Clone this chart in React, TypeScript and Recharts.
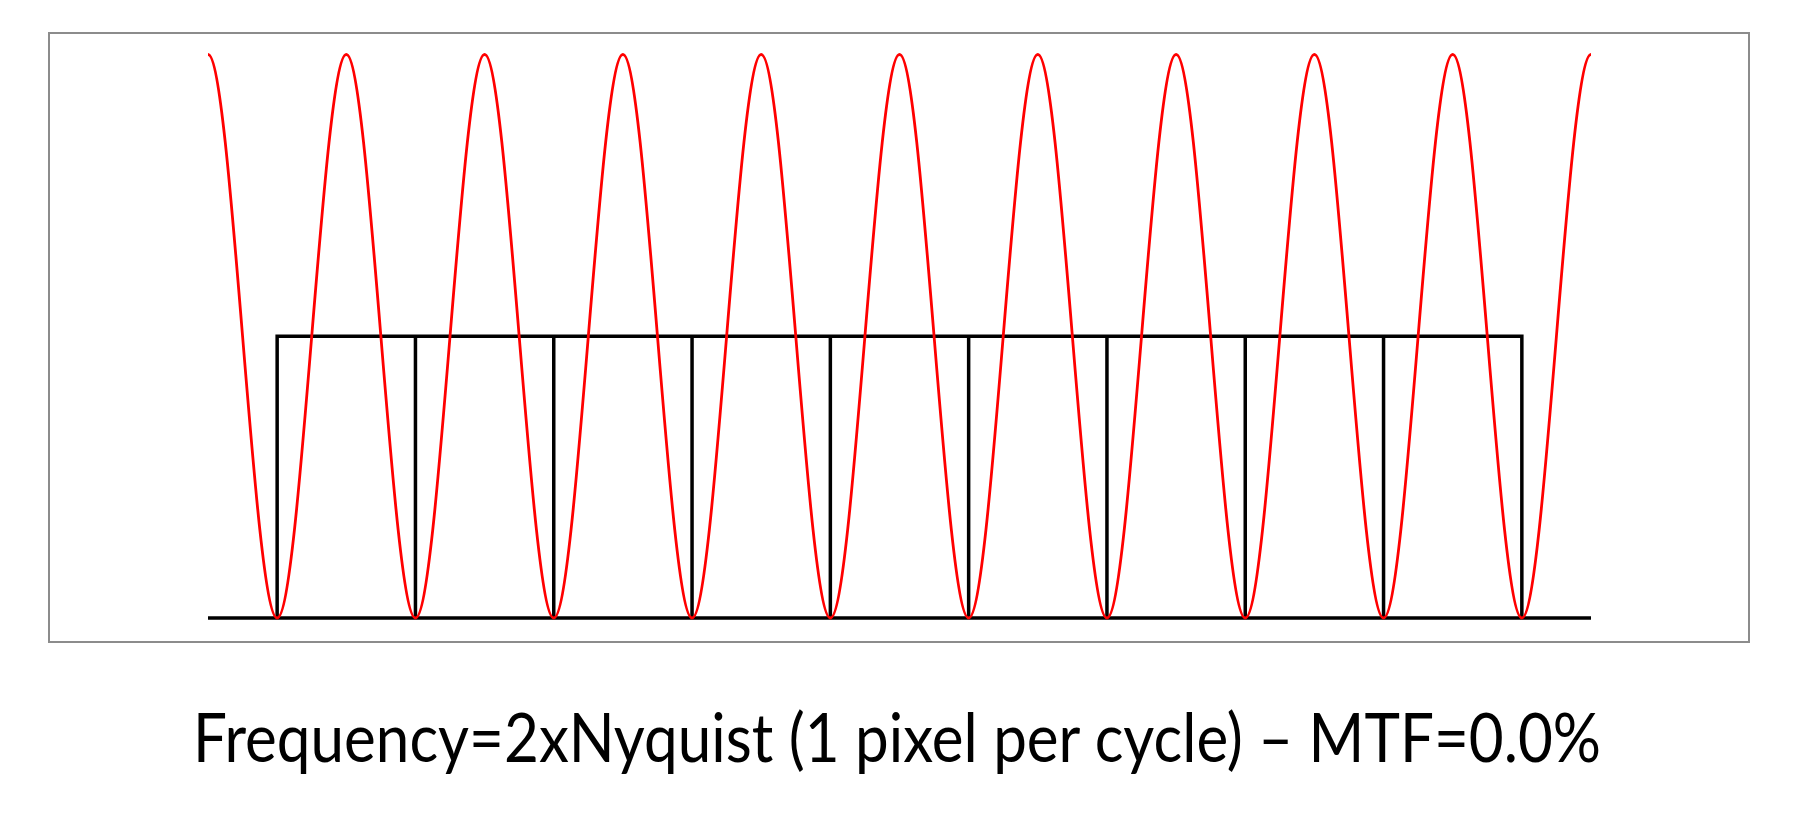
import React from "react";
import { LineChart, Line, XAxis, YAxis } from "recharts";

// Red sinusoid: peak / trough positions (in cycles) and their levels
// (the troughs at -0.5 and 10.5 lie just outside the visible range and are clipped)
const redX = [-0.5, 0, 0.5, 1, 1.5, 2, 2.5, 3, 3.5, 4, 4.5, 5, 5.5, 6, 6.5, 7, 7.5, 8, 8.5, 9, 9.5, 10, 10.5];
const redY = [0, 1, 0, 1, 0, 1, 0, 1, 0, 1, 0, 1, 0, 1, 0, 1, 0, 1, 0, 1, 0, 1, 0];

// Black pulse train: edges (in cycles) and level
const pulseEdges = [0.5, 1.5, 2.5, 3.5, 4.5, 5.5, 6.5, 7.5, 8.5, 9.5];
const pulseLevel = 0.5;

// Baseline extent
const baseX = [0, 10];
const baseY = [0, 0];

const title = "Frequency=2xNyquist (1 pixel per cycle) \u2013 MTF=0.0%";

const redData = redX.map((x, i) => ({ x, y: redY[i] }));
const baseData = baseX.map((x, i) => ({ x, y: baseY[i] }));
const pulseData: { x: number; y: number }[] = [];
pulseEdges.forEach((e, i) => {
  if (i === 0) {
    pulseData.push({ x: e, y: 0 });
    pulseData.push({ x: e, y: pulseLevel });
  } else {
    pulseData.push({ x: e, y: pulseLevel });
    pulseData.push({ x: e, y: 0 });
    if (i < pulseEdges.length - 1) pulseData.push({ x: e, y: pulseLevel });
  }
});

export default function App() {
  return (
    <div style={{ position: "absolute", left: 0, top: 0, width: 1794, height: 822, background: "#fff" }}>
      <div
        style={{
          position: "absolute",
          left: 48,
          top: 32,
          width: 1698,
          height: 607,
          border: "2px solid #8c8c8c",
        }}
      />
      <div style={{ position: "absolute", left: 0, top: 0 }}>
        <LineChart width={1794} height={822} margin={{ top: 26.3, bottom: 175.8, left: 208, right: 203 }}>
          <XAxis type="number" dataKey="x" domain={[0, 10]} hide allowDataOverflow />
          <YAxis type="number" dataKey="y" domain={[-0.05, 1.05]} hide />
          <Line data={baseData} dataKey="y" type="linear" stroke="#000" strokeWidth={3.5} dot={false} isAnimationActive={false} />
          <Line data={pulseData} dataKey="y" type="linear" stroke="#000" strokeWidth={3.5} dot={false} isAnimationActive={false} />
          <Line data={redData} dataKey="y" type="monotone" stroke="#ff0000" strokeWidth={2.8} dot={false} isAnimationActive={false} />
        </LineChart>
      </div>
      <svg style={{ position: "absolute", left: 0, top: 0 }} width={1794} height={822}>
        <text
          x={897}
          y={762}
          textAnchor="middle"
          fontFamily="Lato, 'Open Sans', sans-serif"
          fontSize={67}
          fill="#000"
          textLength={1408}
          lengthAdjust="spacingAndGlyphs"
        >
          {title}
        </text>
      </svg>
    </div>
  );
}
